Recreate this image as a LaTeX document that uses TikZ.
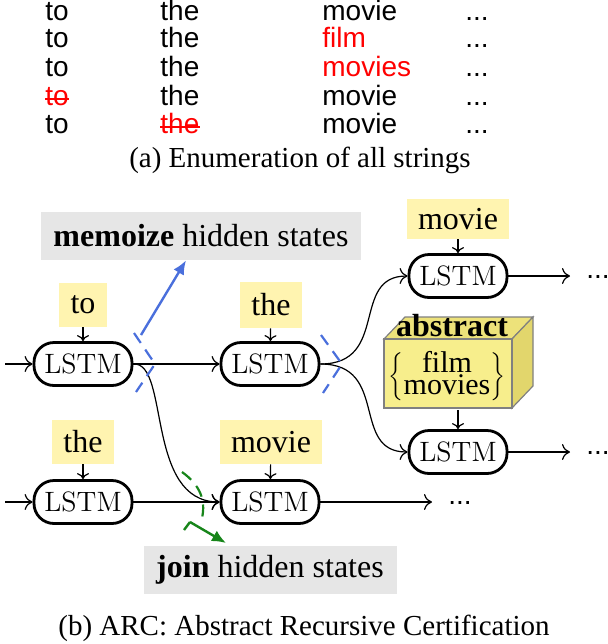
\documentclass[tikz,border=0pt]{standalone}
\usepackage{fontspec}
\setmainfont{Liberation Serif}
\newfontfamily\lmfont{Latin Modern Roman}
\newfontfamily\sansf{Liberation Sans}
\usetikzlibrary{arrows.meta}
\definecolor{hl}{HTML}{FFF4B0}
\definecolor{cubeF}{HTML}{F7EE8C}
\definecolor{cubeT}{HTML}{EDE27A}
\definecolor{cubeS}{HTML}{E2D66C}
\definecolor{gbox}{HTML}{E6E6E6}
\definecolor{bl}{HTML}{4A6FDC}
\definecolor{gr}{HTML}{17851A}
\begin{document}
\begin{tikzpicture}[x=0.5pt,y=-0.5pt,
  txt/.style={font=\sansf\fontsize{14}{16}\selectfont,inner sep=0pt,anchor=base west},
  lstm/.style={draw,line width=1.4pt,rounded corners=10pt,minimum width=49pt,minimum height=21.5pt,inner sep=0pt,font=\lmfont\fontsize{14}{15}\selectfont},
  word/.style={fill=hl,font=\fontsize{16}{18}\selectfont,inner sep=0pt,minimum height=22pt},
  lbl/.style={fill=gbox,font=\fontsize{16}{18}\selectfont,inner sep=0pt,minimum height=24pt},
  conn/.style={-{To[length=4pt,width=8pt]},line width=0.6pt},
  tin/.style={-{To[length=3pt,width=6pt]},line width=0.6pt}]
\useasboundingbox (0,0) rectangle (608,644);
% table
\foreach \y/\a/\b/\c/\n in {20/to/the/movie/1,47/to/the/{\color{red}film}/2,76/to/the/{\color{red}movies}/3,105/{\color{red}to}/the/movie/4,133/to/{\color{red}the}/movie/5}{
  \node[txt] (ta\n) at (45,\y) {\a};
  \node[txt] (tb\n) at (160,\y) {\b};
  \node[txt] (tc\n) at (322,\y) {\c};
  \node[txt] (td\n) at (465,\y) {...};
}
\draw[red,line width=0.8pt] ([yshift=3pt]ta4.base west) -- ([yshift=3pt]ta4.base east);
\draw[red,line width=0.8pt] ([yshift=3pt]tb5.base west) -- ([yshift=3pt]tb5.base east);
\node[font=\fontsize{14.5}{16}\selectfont] (capa) at (300,160) {(a) Enumeration of all strings};
% labels
\node[lbl,minimum width=160pt] (mem) at (201,236) {\textbf{memoize} hidden states};
\node[lbl,minimum width=126.5pt] (join) at (270,570) {\textbf{join} hidden states};
% LSTMs
\node[lstm] (L1) at (83,364) {LSTM};
\node[lstm] (L2) at (270,364) {LSTM};
\node[lstm] (L3) at (458,276) {LSTM};
\node[lstm] (L4) at (458,452) {LSTM};
\node[lstm] (L5) at (83,502) {LSTM};
\node[lstm] (L6) at (270,502) {LSTM};
% words
\node[word,minimum width=24pt] (w1) at (83,305) {to};
\node[word,minimum width=31pt,minimum height=23pt] (w2) at (271,305) {the};
\node[word,minimum width=51pt,minimum height=20pt] (w3) at (458,219) {movie};
\node[word,minimum width=31pt] (w5) at (83,442) {the};
\node[word,minimum width=51pt] (w6) at (271,442) {movie};
% cube
\draw[gray,line width=0.6pt,fill=cubeT] (384,339) -- (405,317) -- (533,317) -- (512,339) -- cycle;
\draw[gray,line width=0.6pt,fill=cubeS] (512,339) -- (533,317) -- (533,386) -- (512,408) -- cycle;
\draw[gray,line width=0.6pt,fill=cubeF] (384,339) rectangle (512,408);
\node[font=\bfseries\fontsize{16}{17}\selectfont,inner sep=0pt] (abs) at (452,326) {abstract};
\node[font=\fontsize{15}{15}\selectfont,inner sep=0pt] (set) at (447,377) {$\left\{\begin{tabular}{@{}c@{}}film\\[-4pt]movies\end{tabular}\right\}$};
\coordinate (cb) at (458,410);
% dots
\coordinate (e3) at (570,276); \node[txt] (d3) at (586,278) {...};
\coordinate (e4) at (570,452); \node[txt] (d4) at (586,454) {...};
\coordinate (e6) at (432,502); \node[txt] (d6) at (448,504) {...};
\coordinate (s1) at (5,364); \coordinate (s5) at (5,502);
% connectors
\draw[conn] (s1) -- (L1);
\draw[conn] (s5) -- (L5);
\draw[conn] (L1) -- (L2);
\draw[conn] (L5) -- (L6);
\draw[conn] (L3) -- (e3);
\draw[conn] (L4) -- (e4);
\draw[conn] (L6) -- (e6);
\draw[conn] (L1.east) .. controls (170,362) and (145,502) .. (L6.west);
\draw[conn] (L2.east) .. controls (390,364) and (350,276) .. (L3.west);
\draw[conn] (L2.east) .. controls (390,364) and (350,452) .. (L4.west);
\foreach \w/\l in {w1/L1,w2/L2,w3/L3,w5/L5,w6/L6}{\draw[tin] (\w) -- (\l);}
\draw[tin] (cb) -- (L4);
% memoize / join marks
\draw[bl,dash pattern=on 6pt off 4pt,line width=1.1pt] (134,333) -- (155,364) -- (136,392);
\draw[bl,dash pattern=on 6pt off 4pt,line width=1.1pt] (321,335) -- (342,364) -- (323,393);
\draw[bl,-{Latex[length=7pt,width=6pt]},line width=1.2pt] (141,335) -- (mem.south -| 186,0);
\draw[gr,dash pattern=on 6pt off 4pt,line width=1.1pt] (182,472) .. controls (200,485) and (206,500) .. (202,518);
\draw[gr,line width=1.2pt] (184,530) -- (190,522);
\draw[gr,-{Latex[length=7pt,width=6pt]},line width=1.2pt] (190,522) -- (226,543);
\node[font=\fontsize{14.5}{16}\selectfont] (capb) at (304,628) {(b) ARC: Abstract Recursive Certification};
\end{tikzpicture}
\end{document}
